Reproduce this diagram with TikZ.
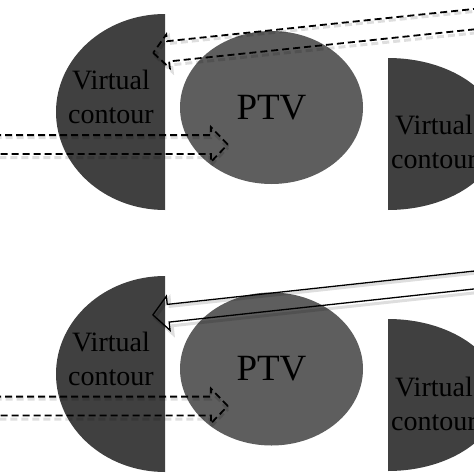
\documentclass[tikz,border=0pt]{standalone}
\usepackage{fontspec}
\setmainfont{Liberation Serif}
\usetikzlibrary{shapes.geometric,shapes.arrows}
\definecolor{contourgray}{HTML}{404040}
\definecolor{ptvgray}{HTML}{5E5E5E}
\begin{document}
\begin{tikzpicture}[x=1pt, y=-1pt,
        ptv/.style={ellipse, fill=ptvgray, inner sep=0pt, minimum width=183pt, minimum height=153pt, font=\fontsize{37}{40}\selectfont},
        contourlabel/.style={align=center, inner sep=0pt, font=\fontsize{28}{34}\selectfont},
        beam/.style={single arrow, draw=black, anchor=tip, inner xsep=0pt, minimum width=0pt, single arrow head indent=0pt},
        beamdash/.style={beam, line width=1.8pt, dash pattern=on 7pt off 4pt},
        beamshadow/.style={draw opacity=0.13, line width=3pt, yshift=-3pt, xshift=1pt}]
        \useasboundingbox[fill=white] (0,0) rectangle (474,474);

        % upper panel
        \fill[contourgray] (165,14) arc[start angle=90, end angle=270, x radius=109pt, y radius=98pt] -- cycle;
        \fill[contourgray] (388,58) arc[start angle=90, end angle=-90, x radius=112pt, y radius=76pt] -- cycle;
        \node[ptv] (ptvtop) at (271.5,107.5) {PTV};
        \node[contourlabel] (lefttop) at (111,97) {Virtual\\contour};
        \node[contourlabel] (righttop) at (434,142) {Virtual\\contour};

        \node[beamdash, beamshadow, minimum height=340pt, inner ysep=9.25pt, single arrow head extend=6.75pt, single arrow tip angle=97, rotate=186] (backtopshade) at (152,53) {};
        \node[beamdash, beamshadow, minimum height=245pt, inner ysep=8.5pt, single arrow head extend=8pt, single arrow tip angle=92] (fronttopshade) at (229,144.5) {};
        \node[beamdash, minimum height=340pt, inner ysep=9.25pt, single arrow head extend=6.75pt, single arrow tip angle=97, rotate=186] (backtop) at (152,53) {};
        \node[beamdash, minimum height=245pt, inner ysep=8.5pt, single arrow head extend=8pt, single arrow tip angle=92] (fronttop) at (229,144.5) {};

        % lower panel
        \fill[contourgray] (165,276) arc[start angle=90, end angle=270, x radius=109pt, y radius=98pt] -- cycle;
        \fill[contourgray] (388,319) arc[start angle=90, end angle=-90, x radius=112pt, y radius=76pt] -- cycle;
        \node[ptv] (ptvbot) at (271.5,369) {PTV};
        \node[contourlabel] (leftbot) at (111,359) {Virtual\\contour};
        \node[contourlabel] (rightbot) at (434,404) {Virtual\\contour};

        \node[beam, beamshadow, minimum height=340pt, inner ysep=8.25pt, single arrow head extend=8.25pt, single arrow tip angle=96, rotate=186.2] (backbotshade) at (152,315) {};
        \node[beamdash, beamshadow, minimum height=245pt, inner ysep=8.5pt, single arrow head extend=8pt, single arrow tip angle=92] (frontbotshade) at (229,406) {};
        \node[beam, line width=1.3pt, minimum height=340pt, inner ysep=8.25pt, single arrow head extend=8.25pt, single arrow tip angle=96, rotate=186.2] (backbot) at (152,315) {};
        \node[beamdash, minimum height=245pt, inner ysep=8.5pt, single arrow head extend=8pt, single arrow tip angle=92] (frontbot) at (229,406) {};
    \end{tikzpicture}
\end{document}
